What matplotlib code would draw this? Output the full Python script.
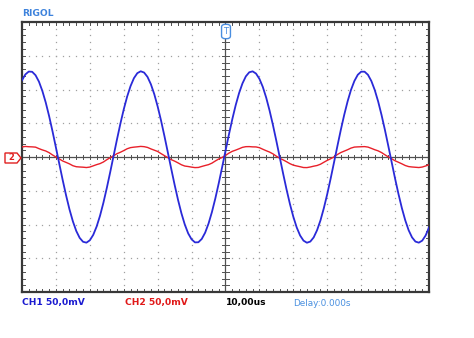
import numpy as np
import matplotlib.pyplot as plt
from matplotlib.patches import Polygon, FancyBboxPatch

# time axis, us (trigger at centre, 10 us/div)
t_us = list(range(-60, 61))

# CH1 reading, mV
ch1_mv = [113.7, 122.4, 126.6, 126.2, 121.1, 111.6, 97.9, 80.7, 60.5, 38.0,
          14.1, -10.2, -34.2, -56.9, -77.6, -95.3, -109.6, -119.8, -125.6, -126.9,
          -123.4, -115.4, -103.1, -87.1, -67.8, -46.0, -22.6, 1.7, 25.9, 49.2,
          70.6, 89.5, 105.0, 116.8, 124.2, 127.0, 125.1, 118.7, 107.8, 93.1,
          74.8, 53.9, 30.9, 6.8, -17.5, -41.2, -63.4, -83.3, -100.1, -113.2,
          -122.0, -126.5, -126.3, -121.4, -112.1, -98.6, -81.5, -61.4, -39.1, -15.3,
          9.1, 33.1, 55.9, 76.7, 94.6, 109.0, 119.5, 125.5, 126.9, 123.6,
          115.8, 103.8, 87.9, 68.7, 47.1, 23.7, -0.6, -24.8, -48.1, -69.7,
          -88.6, -104.4, -116.3, -123.9, -127.0, -125.3, -119.1, -108.4, -93.9, -75.7,
          -54.9, -32.0, -7.9, 16.4, 40.2, 62.4, 82.4, 99.4, 112.6, 121.8,
          126.4, 126.4, 121.8, 112.6, 99.3, 82.4, 62.4, 40.2, 16.4, -7.9,
          -32.0, -54.8, -75.7, -93.8, -108.5, -119.1, -125.3, -126.9, -123.9, -116.3,
          -104.4]

# CH2 reading, mV
ch2_mv = [14.9, 15.6, 15.2, 15.0, 14.6, 12.4, 10.5, 8.9, 6.4, 3.0,
          0.0, -2.9, -5.9, -8.0, -10.2, -12.9, -14.4, -14.8, -15.1, -15.6,
          -14.9, -13.1, -11.3, -9.8, -7.4, -4.0, -1.0, 1.9, 4.9, 7.0,
          9.5, 12.2, 13.9, 14.6, 15.1, 15.7, 15.3, 14.2, 12.0, 10.1,
          8.2, 5.0, 2.0, -0.9, -3.9, -6.1, -8.7, -11.5, -13.4, -14.1,
          -15.0, -15.7, -15.5, -14.0, -12.6, -11.3, -9.1, -5.9, -3.0, -0.6,
          2.3, 5.7, 8.4, 10.2, 12.2, 14.3, 15.3, 15.4, 15.0, 14.9,
          13.8, 11.5, 9.3, 7.3, 4.6, 1.2, -1.9, -4.3, -7.0, -9.9,
          -12.1, -13.3, -14.4, -15.6, -15.7, -14.8, -13.6, -12.6, -10.7, -7.8,
          -5.0, -2.6, 0.2, 3.7, 6.6, 8.7, 10.8, 13.2, 14.7, 15.0,
          15.2, 15.4, 14.7, 12.8, 10.8, 9.1, 6.6, 3.3, 0.2, -2.6,
          -5.6, -7.8, -10.1, -12.6, -14.2, -14.8, -15.2, -15.6, -14.9, -13.3,
          -11.5]

W, H = 474, 338
fig = plt.figure(figsize=(W / 100, H / 100), dpi=100)
fig.patch.set_facecolor('white')

# screen area in pixels
x0, x1, y0, y1 = 22, 429, 22, 292
ax = fig.add_axes([x0 / W, 1 - y1 / H, (x1 - x0) / W, (y1 - y0) / H])
ax.set_xlim(-60, 60)
ax.set_ylim(-200, 200)
ax.set_xticks([])
ax.set_yticks([])
for s in ax.spines.values():
    s.set_color('#383838')
    s.set_linewidth(1.6)

grid_c = '#a0a0a0'
# dotted graticule
for gx in range(-50, 60, 10):
    if gx == 0:
        continue
    ys = np.arange(-190, 200, 10)
    ax.plot([gx] * len(ys), ys, ls='none', marker='s', ms=0.9, mew=0, color=grid_c)
for gy in range(-150, 200, 50):
    if gy == 0:
        continue
    xs = np.arange(-58, 60, 2)
    ax.plot(xs, [gy] * len(xs), ls='none', marker='s', ms=0.9, mew=0, color=grid_c)

# centre cross with minor ticks, plus ticks along the frame
tick_c = '#505050'
ax.axhline(0, color=tick_c, lw=0.9)
ax.axvline(0, color=tick_c, lw=0.9)
for xt in np.arange(-58, 60, 2):
    ax.plot([xt, xt], [-3, 3], color=tick_c, lw=0.7)
    ax.plot([xt, xt], [-200, -195], color=tick_c, lw=0.7)
    ax.plot([xt, xt], [200, 195], color=tick_c, lw=0.7)
for yt in np.arange(-190, 200, 10):
    ax.plot([-0.9, 0.9], [yt, yt], color=tick_c, lw=0.7)
    ax.plot([-60, -59.0], [yt, yt], color=tick_c, lw=0.7)
    ax.plot([60, 59.0], [yt, yt], color=tick_c, lw=0.7)

ax.plot(t_us, ch2_mv, color='#e8202a', lw=1.0, zorder=4)
ax.plot(t_us, ch1_mv, color='#2a2ad8', lw=1.3, zorder=5)


def fx(px):
    return px / W


def fy(py):
    return 1 - py / H


# channel marker on the left
marker = Polygon([(fx(5), fy(153)), (fx(17), fy(153)), (fx(21), fy(158)),
                  (fx(17), fy(163)), (fx(5), fy(163))], closed=True,
                 transform=fig.transFigure, facecolor='white',
                 edgecolor='#e02020', lw=1.0)
fig.add_artist(marker)
fig.text(fx(11), fy(158), '2', color='#e02020', fontsize=6, fontweight='bold',
         ha='center', va='center')

# trigger position marker on top
trig = FancyBboxPatch((fx(222.5), fy(38)), (7 / W), (13 / H),
                      boxstyle='round,pad=0.002,rounding_size=0.008',
                      transform=fig.transFigure, facecolor='white',
                      edgecolor='#4a8ee0', lw=1.0, zorder=6)
fig.add_artist(trig)
fig.text(fx(226), fy(31.5), 'T', color='#4a8ee0', fontsize=6,
         ha='center', va='center', zorder=7)

fig.text(fx(22), fy(13), 'RIGOL', color='#3d82dc', fontsize=6.6,
         fontweight='bold', ha='left', va='center')
fig.text(fx(22), fy(303), 'CH1 50,0mV', color='#1a1ad0', fontsize=6.6,
         fontweight='bold', ha='left', va='center')
fig.text(fx(125), fy(303), 'CH2 50,0mV', color='#e01818', fontsize=6.6,
         fontweight='bold', ha='left', va='center')
fig.text(fx(226), fy(303), '10,00us', color='black', fontsize=6.6,
         fontweight='bold', ha='left', va='center')
fig.text(fx(293), fy(303), 'Delay:0.000s', color='#4a90e0', fontsize=6.4,
         ha='left', va='center')

fig.savefig('out.png', dpi=100, facecolor='white')
